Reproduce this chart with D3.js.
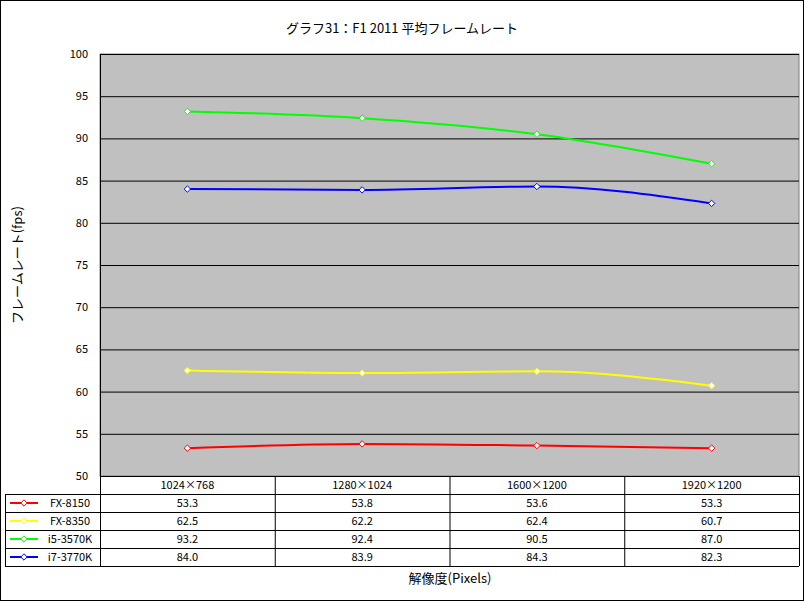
<!DOCTYPE html>
<html><head><meta charset="utf-8">
<script src="https://cdn.jsdelivr.net/npm/d3@7"></script>
<style>body{margin:0;background:#fff}</style></head>
<body><svg id="c" width="804" height="601"></svg>
<script>
const categories=["1024×768","1280×1024","1600×1200","1920×1200"];
const seriesNames=["FX-8150","FX-8350","i5-3570K","i7-3770K"];
const seriesColors=["#FF0000","#FFFF00","#00FF00","#0000FF"];
const fx8150=[53.3,53.8,53.6,53.3];
const fx8350=[62.5,62.2,62.4,60.7];
const i5=[93.2,92.4,90.5,87.0];
const i7=[84.0,83.9,84.3,82.3];
const yTicks=[50,55,60,65,70,75,80,85,90,95,100];
const values=[fx8150,fx8350,i5,i7];

const svg=d3.select("#c");
const F="'Noto Sans CJK JP','DejaVu Sans',sans-serif";
svg.append("rect").attr("x",0.5).attr("y",0.5).attr("width",803).attr("height",600).attr("fill","#fff").attr("stroke","#000");
const L=100,R=799,T=54,B=476;
const x=d3.scaleBand().domain(categories).range([L,R]);
const y=d3.scaleLinear().domain([50,100]).range([B,T]);
svg.append("rect").attr("x",L).attr("y",T).attr("width",R-L).attr("height",B-T).attr("fill","#C0C0C0").attr("stroke","#808080");
const ya=svg.append("g").attr("transform",`translate(${L},0)`).call(d3.axisLeft(y).tickValues(yTicks).tickSize(0).tickPadding(12));
ya.select(".domain").remove();
ya.selectAll("text").attr("font-family",F).attr("font-size",11).attr("fill","#000");
svg.append("g").selectAll("line").data(yTicks.slice(1)).join("line")
 .attr("x1",L).attr("x2",R).attr("y1",d=>y(d)+0.5).attr("y2",d=>y(d)+0.5).attr("stroke","#000");
svg.append("line").attr("x1",L+0.5).attr("x2",L+0.5).attr("y1",T).attr("y2",B).attr("stroke","#000");
const line=d3.line().x((d,i)=>x(categories[i])+x.bandwidth()/2).y(d=>y(d)).curve(d3.curveMonotoneX);
values.forEach((v,s)=>{
 svg.append("path").attr("d",line(v)).attr("fill","none").attr("stroke",seriesColors[s]).attr("stroke-width",2);
 svg.append("g").selectAll("path").data(v).join("path")
  .attr("transform",(d,i)=>`translate(${x(categories[i])+x.bandwidth()/2},${y(d)})`)
  .attr("d",d3.symbol(d3.symbolDiamond2,26)()).attr("fill","#fff").attr("stroke",seriesColors[s]).attr("stroke-width",1);
});
// table
const rowH=18, t0=B;
const tb=svg.append("g");
for(let r=0;r<=5;r++){
 const yy=t0+r*rowH+0.5;
 tb.append("line").attr("x1",r==0?L:5).attr("x2",R).attr("y1",yy).attr("y2",yy).attr("stroke","#000");
}
tb.append("line").attr("x1",5.5).attr("x2",5.5).attr("y1",t0+rowH).attr("y2",t0+5*rowH).attr("stroke","#000");
[L,...categories.map(c=>x(c)+x.bandwidth()),].forEach(xx=>tb.append("line").attr("x1",xx+0.5).attr("x2",xx+0.5).attr("y1",t0).attr("y2",t0+5*rowH).attr("stroke","#000"));
categories.forEach(c=>tb.append("text").attr("x",x(c)+x.bandwidth()/2).attr("y",t0+13).attr("text-anchor","middle").attr("font-family",F).attr("font-size",11).text(c));
seriesNames.forEach((n,s)=>{
 const yy=t0+(s+1)*rowH;
 tb.append("line").attr("x1",10).attr("x2",38).attr("y1",yy+9).attr("y2",yy+9).attr("stroke",seriesColors[s]).attr("stroke-width",2);
 tb.append("path").attr("transform",`translate(24,${yy+9})`).attr("d",d3.symbol(d3.symbolDiamond2,26)()).attr("fill","#fff").attr("stroke",seriesColors[s]);
 tb.append("text").attr("x",70).attr("y",yy+13).attr("text-anchor","middle").attr("font-family",F).attr("font-size",11).text(n);
 values[s].forEach((v,i)=>tb.append("text").attr("x",x(categories[i])+x.bandwidth()/2).attr("y",yy+13).attr("text-anchor","middle").attr("font-family",F).attr("font-size",11).text(v.toFixed(1)));
});
svg.append("text").attr("x",402).attr("y",33).attr("text-anchor","middle").attr("font-family",F).attr("font-size",13).text("グラフ31：F1 2011 平均フレームレート");
svg.append("text").attr("transform","translate(22,265) rotate(-90)").attr("text-anchor","middle").attr("font-family",F).attr("font-size",13).text("フレームレート(fps)");
svg.append("text").attr("x",450).attr("y",583).attr("text-anchor","middle").attr("font-family",F).attr("font-size",13).text("解像度(Pixels)");
</script></body></html>
